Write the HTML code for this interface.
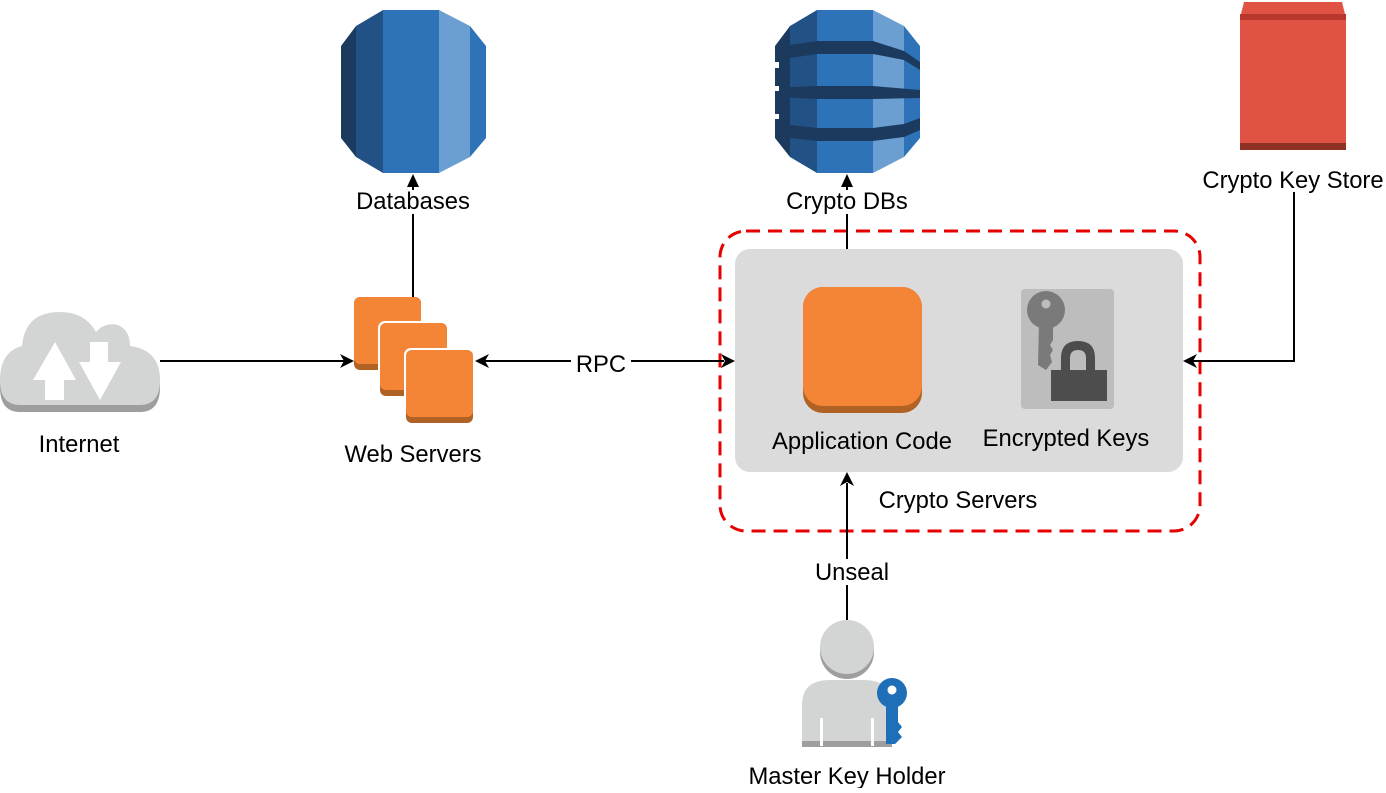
<!DOCTYPE html>
<html><head><meta charset="utf-8"><style>
html,body{margin:0;padding:0;background:#fff;}
svg text{font-family:"Liberation Sans",Arial,sans-serif;font-size:23.8px;fill:#000;text-anchor:middle;}
</style></head><body>
<svg width="1386" height="788" viewBox="0 0 1386 788" xmlns="http://www.w3.org/2000/svg">
<defs>
<clipPath id="oct"><polygon points="383,10 439,10 470,26 486,46 486,138 470,157 439,173 383,173 356,157 341,138 341,46 356,26"/></clipPath>
<clipPath id="oct2"><polygon points="817,10 873,10 904,26 920,46 920,138 904,157 873,173 817,173 790,157 775,138 775,46 790,26"/></clipPath>
</defs>
<g clip-path="url(#oct)">
<rect x="341" y="0" width="15" height="180" fill="#1b3a5e"/>
<rect x="356" y="0" width="27" height="180" fill="#225186"/>
<rect x="383" y="0" width="56" height="180" fill="#2e73b8"/>
<rect x="439" y="0" width="31" height="180" fill="#6b9fd2"/>
<rect x="470" y="0" width="16" height="180" fill="#2e73b8"/>
</g>
<g clip-path="url(#oct2)">
<rect x="775" y="0" width="15" height="180" fill="#1b3a5e"/>
<rect x="790" y="0" width="27" height="180" fill="#225186"/>
<rect x="817" y="0" width="56" height="180" fill="#2e73b8"/>
<rect x="873" y="0" width="31" height="180" fill="#6b9fd2"/>
<rect x="904" y="0" width="16" height="180" fill="#2e73b8"/>
<polygon points="775,50 790,45 817,41 873,41 904,51 920,62 920,70 904,60 873,54 817,54 790,58 775,63" fill="#1b3a5e"/>
<polygon points="775,88 817,86 873,86 920,90 920,98 873,99 817,99 775,97" fill="#1b3a5e"/>
<polygon points="775,120 790,125 817,128 873,128 904,124 920,118 920,130 904,137 873,141 817,141 790,138 775,132" fill="#1b3a5e"/>
<rect x="775" y="62" width="4" height="6" fill="#fff"/>
<rect x="775" y="86" width="4" height="5" fill="#fff"/>
<rect x="775" y="114" width="4" height="5" fill="#fff"/>
</g>
<rect x="1240" y="18" width="106" height="132" fill="#e05243"/>
<rect x="1240" y="143" width="106" height="7" fill="#8c3123"/>
<polygon points="1244,2 1342,2 1346,18 1240,18" fill="#e05243"/>
<rect x="1240" y="14" width="106" height="6" fill="#b8372c"/>
<g>
<path d="M20,405 Q0,405 0,380 Q0,352 22,346 Q25,312 60,312 Q85,312 96,332 Q105,322 118,325 Q130,330 130,346 Q160,350 160,380 Q160,405 140,405 Z" fill="#9e9e9e" transform="translate(0,7)"/>
<path d="M20,405 Q0,405 0,380 Q0,352 22,346 Q25,312 60,312 Q85,312 96,332 Q105,322 118,325 Q130,330 130,346 Q160,350 160,380 Q160,405 140,405 Z" fill="#d3d4d4"/>
<polygon points="55,342 33,380 45,380 45,400 64,400 64,380 76,380" fill="#fff"/>
<polygon points="90,342 108,342 108,362 121,362 100,400 79,362 90,362" fill="#fff"/>
</g>
<g>
<rect x="354" y="297" width="67" height="73" rx="6" fill="#b06225"/>
<rect x="354" y="297" width="67" height="67" rx="6" fill="#f58536"/>
<rect x="378" y="321" width="71" height="77" rx="7" fill="#fff"/>
<rect x="380" y="323" width="67" height="73" rx="6" fill="#b06225"/>
<rect x="380" y="323" width="67" height="67" rx="6" fill="#f58536"/>
<rect x="404" y="348" width="71" height="77" rx="7" fill="#fff"/>
<rect x="406" y="350" width="67" height="73" rx="6" fill="#b06225"/>
<rect x="406" y="350" width="67" height="67" rx="6" fill="#f58536"/>
</g>
<rect x="720" y="231" width="480" height="300" rx="26" fill="none" stroke="#e60000" stroke-width="3" stroke-dasharray="14,8"/>
<rect x="735" y="249" width="448" height="223" rx="15" fill="#dbdbdb"/>
<rect x="803" y="287" width="119" height="126" rx="20" fill="#b06225"/>
<rect x="803" y="287" width="119" height="119" rx="20" fill="#f58536"/>
<rect x="1021" y="289" width="93" height="120" rx="4" fill="#bdbdbd"/>
<circle cx="1046" cy="310" r="19" fill="#7a7a7a"/>
<circle cx="1046" cy="304" r="4.5" fill="#bdbdbd"/>
<polygon points="1039,322 1053,322 1053,340 1050,345 1053,350 1050,355 1052,362 1046,370 1038,365" fill="#7a7a7a"/>
<path d="M1061,371 V358 Q1061,341 1078,341 Q1095,341 1095,358 V371 H1086 V358 Q1086,350 1078,350 Q1070,350 1070,358 V371 Z" fill="#4d4d4d"/>
<rect x="1051" y="370" width="56" height="31" fill="#4d4d4d"/>
<circle cx="847" cy="652" r="27" fill="#9e9e9e"/>
<circle cx="847" cy="647" r="27" fill="#d3d4d4"/>
<path d="M802,746 V705 Q802,680 830,680 H864 Q892,680 892,705 V746 Z" fill="#d3d4d4"/>
<rect x="802" y="741" width="90" height="6" fill="#9e9e9e"/>
<rect x="820" y="718" width="3" height="28" fill="#fff"/>
<rect x="871" y="718" width="3" height="28" fill="#fff"/>
<circle cx="892" cy="693" r="15" fill="#1f6fb8"/>
<circle cx="892" cy="690" r="4.5" fill="#fff"/>
<polygon points="886,705 898,705 898,722 902,727 898,732 902,737 895,744 886,744" fill="#1f6fb8"/>
<g stroke="#000" stroke-width="2" fill="none">
<line x1="160" y1="361" x2="345" y2="361"/>
<line x1="413" y1="297" x2="413" y2="184"/>
<line x1="484" y1="361" x2="724" y2="361"/>
<line x1="847" y1="249" x2="847" y2="184"/>
<polyline points="1294,192 1294,361 1192,361"/>
<line x1="847" y1="620" x2="847" y2="483"/>
</g>
<rect x="571" y="349" width="60" height="26" fill="#fff"/>
<rect x="808" y="559" width="88" height="26" fill="#fff"/>
<rect x="350" y="190" width="126" height="24" fill="#fff"/>
<rect x="780" y="190" width="134" height="24" fill="#fff"/>
<g fill="#000">
<polygon points="354,361 340,354 344,361 340,368"/>
<polygon points="475,361 489,354 485,361 489,368"/>
<polygon points="735,361 721,354 725,361 721,368"/>
<polygon points="1183,361 1197,354 1193,361 1197,368"/>
<polygon points="413,174 407,187 419,187"/>
<polygon points="847,174 841,187 853,187"/>
<polygon points="847,472 840,486 847,482 854,486"/>
</g>
<text x="413" y="209">Databases</text>
<text x="847" y="209">Crypto DBs</text>
<text x="1293" y="188">Crypto Key Store</text>
<text x="79" y="452">Internet</text>
<text x="413" y="462">Web Servers</text>
<text x="601" y="372">RPC</text>
<text x="862" y="449">Application Code</text>
<text x="1066" y="446">Encrypted Keys</text>
<text x="958" y="508">Crypto Servers</text>
<text x="852" y="580">Unseal</text>
<text x="847" y="784">Master Key Holder</text>
</svg>
</body></html>
